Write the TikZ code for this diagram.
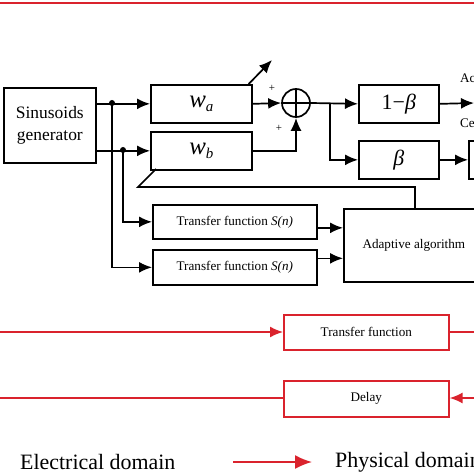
\documentclass[tikz,border=0pt]{standalone}
\usepackage{fontspec}
\setmainfont{Liberation Serif}
\usetikzlibrary{arrows.meta,calc}
\definecolor{dred}{RGB}{218,35,45}
\begin{document}
\begin{tikzpicture}[x=1bp,y=-1bp,
  blk/.style={draw=black,line width=1.7bp,inner sep=0pt,anchor=north west},
  rblk/.style={draw=dred,line width=1.6bp,inner sep=0pt,anchor=north west},
  wire/.style={line width=1.7bp},
  arr/.style={wire,-{Latex[length=13bp,width=11bp]}},
  rwire/.style={line width=1.6bp,draw=dred},
  rarr/.style={rwire,-{Latex[length=13bp,width=11bp]}},
  dot/.style={circle,fill=black,inner sep=0pt,minimum size=6bp},
  sm/.style={font=\fontsize{13.2}{15}\selectfont},
  big/.style={font=\fontsize{22}{24}\selectfont},
  ]
\useasboundingbox (0,0) rectangle (474,474);
\clip (0,0) rectangle (474,474);
% top red line
\coordinate (tl) at (0,3);
\coordinate (tr) at (474,3);
\draw[dred,line width=2bp] (tl) -- (tr);

% blocks
\node[blk,minimum width=92bp,minimum height=75bp,align=center,font=\fontsize{17.5}{22}\selectfont] (gen) at (3,87) {Sinusoids\\generator};
\node[blk,minimum width=101bp,minimum height=38bp] (wa) at (150,84) {{\fontsize{25}{25}\selectfont\itshape w}\raisebox{-4bp}{\fontsize{15}{15}\selectfont\itshape a}};
\node[blk,minimum width=101bp,minimum height=38bp] (wb) at (150,131) {{\fontsize{25}{25}\selectfont\itshape w}\raisebox{-4bp}{\fontsize{15}{15}\selectfont\itshape b}};
\node[blk,sm,minimum width=164bp,minimum height=34bp] (tf1) at (152,204) {Transfer function \textit{S(n)}};
\node[blk,sm,minimum width=164bp,minimum height=35bp] (tf2) at (152,249) {Transfer function \textit{S(n)}};
\node[blk,sm,minimum width=140bp,minimum height=73bp] (ad) at (343,208) {Adaptive algorithm};
\node[blk,big,minimum width=80bp,minimum height=38bp] (omb) at (358,84) {1−{\itshape β}};
\node[blk,big,minimum width=80bp,minimum height=38bp] (beta) at (358,140) {{\itshape β}};
\node[blk,minimum width=30bp,minimum height=38bp] (nx) at (468,140) {};
\node[circle,draw,line width=1.7bp,minimum size=28bp,inner sep=0pt] (sum) at (296,103) {};
\draw[wire] (sum.north) -- (sum.south) (sum.west) -- (sum.east);

% plus signs and clipped labels
\node[font=\fontsize{11}{11}\selectfont,inner sep=0pt] (p1) at (272,88) {+};
\node[font=\fontsize{11}{11}\selectfont,inner sep=0pt] (p2) at (279,128) {+};
\node[sm,anchor=west,inner sep=0pt] (ac) at (460,78) {Ac};
\node[sm,anchor=west,inner sep=0pt] (ce) at (460,123) {Ce};

% generator outputs
\node[dot] (d1) at (112,103) {};
\node[dot] (d2) at (123,150) {};
\draw[arr] (gen.east |- wa.west) -- (wa.west);
\draw[arr] (gen.east |- wb.west) -- (wb.west);
\draw[arr] (d2.center) |- (tf1.west);
\draw[arr] (d1.center) |- (tf2.west);

% to adaptive algorithm
\draw[arr] ([yshift=-6bp]tf1.east) -- ([yshift=-6bp]tf1.east -| ad.west);
\draw[arr] ([yshift=9bp]tf2.east) -- ([yshift=9bp]tf2.east -| ad.west);

% weight update arrow
\coordinate (wu) at (272,60);
\draw[arr] ([xshift=-4bp]wa.north east) -- (wu);

% sum
\draw[arr] (wa.east) -- (sum.west);
\draw[arr] (wb.east) -| (sum.south);
\coordinate (br) at (330,103);
\draw[arr] (sum.east) -- (omb.west);
\draw[arr] (br) |- (beta.west);
\coordinate (oe) at (474,103);
\draw[arr] (omb.east) -- (oe);
\draw[arr] (beta.east) -- (nx.west);

% feedback from adaptive algorithm
\coordinate (f1) at (156,169);
\coordinate (f2) at (138,187);
\draw[wire] (ad.north -| 415,0) |- (f2) -- (f1);

% red physical section
\node[rblk,sm,minimum width=165bp,minimum height=35bp] (rtf) at (283,314) {Transfer function};
\node[rblk,sm,minimum width=165bp,minimum height=36bp] (del) at (283,380) {Delay};
\coordinate (r1) at (0,332);
\coordinate (r2) at (474,332);
\coordinate (r3) at (474,398);
\coordinate (r4) at (0,398);
\draw[rarr] (r1) -- (rtf.west |- r1);
\draw[rwire] (rtf.east |- r2) -- (r2);
\draw[rarr] (r3) -- (del.east |- r3);
\draw[rwire] (del.west |- r4) -- (r4);

% legend
\node[big,anchor=west,inner sep=0pt] (el) at (20,462) {Electrical domain};
\node[big,anchor=west,inner sep=0pt] (ph) at (335,462) {Physical domain};
\coordinate (la) at (233,462);
\coordinate (lb) at (312,462);
\draw[dred,line width=1.8bp,-{Latex[length=17bp,width=14bp]}] (la) -- (lb);
\end{tikzpicture}
\end{document}
